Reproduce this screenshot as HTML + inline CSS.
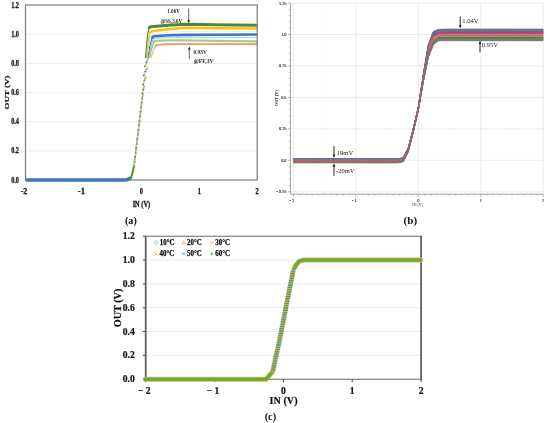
<!DOCTYPE html>
<html lang="en"><head><meta charset="utf-8"><title>Figure</title>
<style>
html,body{margin:0;padding:0;background:#fff;}
body{width:550px;height:423px;overflow:hidden;}
svg{display:block;}
text{font-family:'Liberation Serif', 'DejaVu Serif', serif;fill:#111;}
.ta{font-size:7.6px;font-weight:bold;fill:#1a1a1a;stroke:#1a1a1a;stroke-width:0.3px;}
.an{font-size:6.8px;font-weight:bold;fill:#2a2a2a;}
.tb{font-size:4.3px;fill:#222;stroke:#222;stroke-width:0.1px;}
.tb2{font-size:3.9px;fill:#222;}
.bn{font-size:6.8px;fill:#1a1a1a;}
.tc{font-size:9.6px;font-weight:bold;fill:#111;stroke:#111;stroke-width:0.2px;}
.lg{font-size:7.5px;font-weight:bold;fill:#111;stroke:#111;stroke-width:0.25px;}
.cap{font-size:10.2px;font-weight:bold;fill:#111;}
</style></head><body>
<svg width="550" height="423" viewBox="0 0 550 423">
<rect width="550" height="423" fill="#fff"/>
<g id="chartA">
<line x1="25.5" x2="257.2" y1="150.83" y2="150.83" stroke="#e9e9e9" stroke-width="0.8"/>
<line x1="25.5" x2="257.2" y1="121.67" y2="121.67" stroke="#e9e9e9" stroke-width="0.8"/>
<line x1="25.5" x2="257.2" y1="92.50" y2="92.50" stroke="#e9e9e9" stroke-width="0.8"/>
<line x1="25.5" x2="257.2" y1="63.33" y2="63.33" stroke="#e9e9e9" stroke-width="0.8"/>
<line x1="25.5" x2="257.2" y1="34.17" y2="34.17" stroke="#e9e9e9" stroke-width="0.8"/>
<polyline points="150.87,58.00 152.77,52.11 155.40,46.10 156.90,44.70" fill="none" stroke="#f0a47e" stroke-width="1.1" stroke-linejoin="round"/>
<polyline points="155.10,46.80 155.80,45.40 157.10,44.70 168.00,44.10 185.00,44.00 215.00,44.05 257.20,44.10" fill="none" stroke="#f0a47e" stroke-width="2.1" stroke-linejoin="round"/>
<polyline points="149.31,58.00 151.63,48.76 154.00,42.30 155.50,40.90" fill="none" stroke="#8cc06a" stroke-width="1.1" stroke-linejoin="round"/>
<polyline points="153.70,43.00 154.40,41.60 155.70,40.90 168.00,40.40 185.00,40.40 215.00,40.90 257.20,41.40" fill="none" stroke="#a4cf86" stroke-width="2.3" stroke-linejoin="round"/>
<polyline points="148.43,58.00 150.92,46.14 153.10,39.70 154.60,38.30" fill="none" stroke="#9db8dc" stroke-width="1.1" stroke-linejoin="round"/>
<polyline points="152.80,40.40 153.50,39.00 154.80,38.30 168.00,37.60 185.00,37.40 215.00,37.50 257.20,37.60" fill="none" stroke="#c3d3e8" stroke-width="1.5" stroke-linejoin="round"/>
<polyline points="147.69,58.00 150.27,43.80 152.30,37.60 153.80,36.20" fill="none" stroke="#3a78c3" stroke-width="1.1" stroke-linejoin="round"/>
<polyline points="152.00,38.30 152.70,36.90 154.00,36.20 168.00,35.30 185.00,34.90 215.00,34.70 257.20,34.50" fill="none" stroke="#3a78c3" stroke-width="2.6" stroke-linejoin="round"/>
<polyline points="146.87,58.00 149.38,41.04 151.10,35.10 152.60,33.70" fill="none" stroke="#d9d2a8" stroke-width="1.1" stroke-linejoin="round"/>
<polyline points="150.80,35.80 151.50,34.40 152.80,33.70 168.00,32.30 185.00,31.40 215.00,31.35 257.20,31.30" fill="none" stroke="#f1eedd" stroke-width="1.3" stroke-linejoin="round"/>
<polyline points="146.23,58.00 148.58,38.17 150.00,32.60 151.50,31.20" fill="none" stroke="#f6c315" stroke-width="1.1" stroke-linejoin="round"/>
<polyline points="149.70,33.30 150.40,31.90 151.70,31.20 168.00,29.25 185.00,27.80 215.00,28.20 257.20,28.60" fill="none" stroke="#f6c315" stroke-width="2.5" stroke-linejoin="round"/>
<polyline points="145.36,58.00 147.73,33.50 149.00,28.10 150.50,26.70" fill="none" stroke="#4b8a35" stroke-width="1.1" stroke-linejoin="round"/>
<polyline points="148.70,28.80 149.40,27.40 150.70,26.70 168.00,25.20 185.00,24.20 215.00,24.70 257.20,25.20" fill="none" stroke="#4b8a35" stroke-width="2.9" stroke-linejoin="round"/>
<polyline points="133.80,168.00 142.00,100.00 147.00,70.00 148.02,58.00" fill="none" stroke="#f0a47e" stroke-width="1.8" stroke-dasharray="1.5 7.6" stroke-dashoffset="0.0"/>
<polyline points="133.80,168.00 142.00,100.00 146.30,70.00 147.56,58.00" fill="none" stroke="#8cc06a" stroke-width="1.8" stroke-dasharray="1.5 7.6" stroke-dashoffset="1.3"/>
<polyline points="133.80,168.00 142.00,100.00 145.90,70.00 147.30,58.00" fill="none" stroke="#9db8dc" stroke-width="1.8" stroke-dasharray="1.5 7.6" stroke-dashoffset="2.6"/>
<polyline points="133.80,168.00 142.00,100.00 145.50,70.00 147.04,58.00" fill="none" stroke="#3a78c3" stroke-width="1.8" stroke-dasharray="1.5 7.6" stroke-dashoffset="3.9"/>
<polyline points="133.80,168.00 142.00,100.00 145.10,70.00 146.78,58.00" fill="none" stroke="#d9d2a8" stroke-width="1.8" stroke-dasharray="1.5 7.6" stroke-dashoffset="5.2"/>
<polyline points="133.80,168.00 142.00,100.00 144.80,70.00 146.59,58.00" fill="none" stroke="#f6c315" stroke-width="1.8" stroke-dasharray="1.5 7.6" stroke-dashoffset="6.5"/>
<polyline points="133.80,168.00 142.00,100.00 144.20,70.00 146.19,58.00" fill="none" stroke="#4b8a35" stroke-width="1.8" stroke-dasharray="1.5 7.6" stroke-dashoffset="7.8"/>
<polyline points="25.50,180.00 123.00,180.00 126.50,179.70 129.20,178.90 130.80,177.60" fill="none" stroke="#2a72ba" stroke-width="3.6" stroke-linejoin="round"/>
<polyline points="129.20,179.30 131.20,177.60 132.60,172.50 133.60,167.50" fill="none" stroke="#4b8a35" stroke-width="1.9" stroke-linejoin="round" stroke-linecap="round"/>
<rect x="25.5" y="5.0" width="231.7" height="175.0" fill="none" stroke="#7a7a7a" stroke-width="1.2"/>
<text x="19" y="182.60" class="ta" text-anchor="end" textLength="7.8" lengthAdjust="spacingAndGlyphs">0.0</text>
<text x="19" y="153.43" class="ta" text-anchor="end" textLength="7.8" lengthAdjust="spacingAndGlyphs">0.2</text>
<text x="19" y="124.27" class="ta" text-anchor="end" textLength="7.8" lengthAdjust="spacingAndGlyphs">0.4</text>
<text x="19" y="95.10" class="ta" text-anchor="end" textLength="7.8" lengthAdjust="spacingAndGlyphs">0.6</text>
<text x="19" y="65.93" class="ta" text-anchor="end" textLength="7.8" lengthAdjust="spacingAndGlyphs">0.8</text>
<text x="19" y="36.77" class="ta" text-anchor="end" textLength="7.8" lengthAdjust="spacingAndGlyphs">1.0</text>
<text x="19" y="7.60" class="ta" text-anchor="end" textLength="7.8" lengthAdjust="spacingAndGlyphs">1.2</text>
<text x="24.00" y="193.5" class="ta" text-anchor="middle" textLength="6.6" lengthAdjust="spacingAndGlyphs">-2</text>
<text x="81.42" y="193.5" class="ta" text-anchor="middle" textLength="7.2" lengthAdjust="spacingAndGlyphs">-1</text>
<text x="141.35" y="193.5" class="ta" text-anchor="middle" textLength="3.2" lengthAdjust="spacingAndGlyphs">0</text>
<text x="199.27" y="193.5" class="ta" text-anchor="middle" textLength="3.2" lengthAdjust="spacingAndGlyphs">1</text>
<text x="257.20" y="193.5" class="ta" text-anchor="middle" textLength="3.2" lengthAdjust="spacingAndGlyphs">2</text>
<text x="141.4" y="207" class="ta" text-anchor="middle" textLength="17.5" lengthAdjust="spacingAndGlyphs">IN (V)</text>
<text transform="translate(8.7,92.6) scale(0.76,1) rotate(-90)" class="ta" style="font-size:8.8px" text-anchor="middle" textLength="34" lengthAdjust="spacingAndGlyphs">OUT (V)</text>
<text x="167.3" y="13.3" class="an" textLength="12.6" lengthAdjust="spacingAndGlyphs">1.06V</text>
<text x="160.6" y="22.5" class="an" textLength="21.6" lengthAdjust="spacingAndGlyphs">@SS,3.6V</text>
<text x="193.5" y="54.2" class="an" textLength="13.4" lengthAdjust="spacingAndGlyphs">0.93V</text>
<text x="193.5" y="63.4" class="an" textLength="20.2" lengthAdjust="spacingAndGlyphs">@FF,3V</text>
<path d="M188.7 8.5V22" stroke="#222" stroke-width="0.7" fill="none"/><path d="M187.3 20.3h2.8l-1.4 3z" fill="#222"/>
<path d="M189.3 59V48.5" stroke="#222" stroke-width="0.7" fill="none"/><path d="M187.9 49.6h2.8l-1.4-3z" fill="#222"/>
</g>
<g id="chartB">
<line x1="324.62" x2="324.62" y1="3.05" y2="194.2" stroke="#fbfbfb" stroke-width="0.7"/>
<line x1="387.07" x2="387.07" y1="3.05" y2="194.2" stroke="#fbfbfb" stroke-width="0.7"/>
<line x1="449.52" x2="449.52" y1="3.05" y2="194.2" stroke="#fbfbfb" stroke-width="0.7"/>
<line x1="511.98" x2="511.98" y1="3.05" y2="194.2" stroke="#fbfbfb" stroke-width="0.7"/>
<line x1="293.40" x2="293.40" y1="3.05" y2="194.2" stroke="#e4e4e4" stroke-width="0.7"/>
<line x1="355.85" x2="355.85" y1="3.05" y2="194.2" stroke="#e4e4e4" stroke-width="0.7"/>
<line x1="418.30" x2="418.30" y1="3.05" y2="194.2" stroke="#e4e4e4" stroke-width="0.7"/>
<line x1="480.75" x2="480.75" y1="3.05" y2="194.2" stroke="#e4e4e4" stroke-width="0.7"/>
<line x1="543.20" x2="543.20" y1="3.05" y2="194.2" stroke="#e4e4e4" stroke-width="0.7"/>
<line x1="290.4" x2="543.20" y1="191.75" y2="191.75" stroke="#e4e4e4" stroke-width="0.7"/>
<line x1="290.4" x2="543.20" y1="160.30" y2="160.30" stroke="#e4e4e4" stroke-width="0.7"/>
<line x1="290.4" x2="543.20" y1="128.85" y2="128.85" stroke="#e4e4e4" stroke-width="0.7"/>
<line x1="290.4" x2="543.20" y1="97.40" y2="97.40" stroke="#e4e4e4" stroke-width="0.7"/>
<line x1="290.4" x2="543.20" y1="65.95" y2="65.95" stroke="#e4e4e4" stroke-width="0.7"/>
<line x1="290.4" x2="543.20" y1="34.50" y2="34.50" stroke="#e4e4e4" stroke-width="0.7"/>
<line x1="290.4" x2="543.20" y1="3.05" y2="3.05" stroke="#e4e4e4" stroke-width="0.7"/>
<polyline points="293.40,162.77 398.32,162.78 403.31,161.58 408.31,151.64 413.30,131.89 418.30,110.26 423.30,81.82 428.29,57.42 433.29,45.09 438.28,40.81 443.28,40.69 543.20,40.68" fill="none" stroke="#4a8a6a" stroke-width="0.9" stroke-linejoin="round"/>
<polyline points="293.40,158.71 398.32,158.70 403.31,157.50 408.31,147.56 413.30,128.32 418.30,107.18 423.30,74.73 428.29,44.53 433.29,31.32 438.28,29.31 443.28,29.06 543.20,29.08" fill="none" stroke="#b0a84a" stroke-width="0.9" stroke-linejoin="round"/>
<polyline points="293.40,162.54 398.32,162.44 403.31,161.24 408.31,151.30 413.30,131.57 418.30,109.94 423.30,81.41 428.29,56.85 433.29,44.50 438.28,40.28 443.28,40.15 543.20,40.26" fill="none" stroke="#438c78" stroke-width="0.9" stroke-linejoin="round"/>
<polyline points="293.40,158.84 398.32,158.85 403.31,157.65 408.31,147.71 413.30,128.45 418.30,107.31 423.30,74.95 428.29,44.91 433.29,31.72 438.28,29.65 443.28,29.40 543.20,29.40" fill="none" stroke="#6ea16b" stroke-width="0.9" stroke-linejoin="round"/>
<polyline points="293.40,162.54 398.32,162.54 403.31,161.35 408.31,151.41 413.30,131.68 418.30,110.07 423.30,81.44 428.29,56.73 433.29,44.36 438.28,40.20 443.28,40.07 543.20,40.07" fill="none" stroke="#3c8e85" stroke-width="0.9" stroke-linejoin="round"/>
<polyline points="293.40,158.91 398.32,158.89 403.31,157.69 408.31,147.76 413.30,128.48 418.30,107.32 423.30,75.07 428.29,45.18 433.29,32.01 438.28,29.89 443.28,29.64 543.20,29.66" fill="none" stroke="#2f9a8b" stroke-width="0.9" stroke-linejoin="round"/>
<polyline points="293.40,162.52 398.32,162.60 403.31,161.41 408.31,151.47 413.30,131.76 418.30,110.16 423.30,81.42 428.29,56.57 433.29,44.17 438.28,40.07 443.28,39.93 543.20,39.85" fill="none" stroke="#419180" stroke-width="0.9" stroke-linejoin="round"/>
<polyline points="293.40,159.03 398.32,159.03 403.31,157.84 408.31,147.90 413.30,128.61 418.30,107.44 423.30,75.29 428.29,45.55 433.29,32.40 438.28,30.22 443.28,29.97 543.20,29.98" fill="none" stroke="#33909c" stroke-width="0.9" stroke-linejoin="round"/>
<polyline points="293.40,162.31 398.32,162.27 403.31,161.08 408.31,151.14 413.30,131.44 418.30,109.86 423.30,81.01 428.29,56.01 433.29,43.60 438.28,39.55 443.28,39.41 543.20,39.44" fill="none" stroke="#4b9570" stroke-width="0.9" stroke-linejoin="round"/>
<polyline points="293.40,159.07 398.32,158.99 403.31,157.80 408.31,147.86 413.30,128.56 418.30,107.37 423.30,75.33 428.29,45.73 433.29,32.61 438.28,30.37 443.28,30.13 543.20,30.20" fill="none" stroke="#3786ad" stroke-width="0.9" stroke-linejoin="round"/>
<polyline points="293.40,162.34 398.32,162.44 403.31,161.25 408.31,151.31 413.30,131.62 418.30,110.05 423.30,81.10 428.29,55.95 433.29,43.51 438.28,39.53 443.28,39.38 543.20,39.28" fill="none" stroke="#559861" stroke-width="0.9" stroke-linejoin="round"/>
<polyline points="293.40,159.29 398.32,159.34 403.31,158.15 408.31,148.21 413.30,128.90 418.30,107.70 423.30,75.76 428.29,46.31 433.29,33.21 438.28,30.91 443.28,30.67 543.20,30.62" fill="none" stroke="#3e7cb7" stroke-width="0.9" stroke-linejoin="round"/>
<polyline points="293.40,162.24 398.32,162.34 403.31,161.14 408.31,151.21 413.30,131.53 418.30,109.97 423.30,80.92 428.29,55.63 433.29,43.16 438.28,39.23 443.28,39.09 543.20,38.99" fill="none" stroke="#629756" stroke-width="0.9" stroke-linejoin="round"/>
<polyline points="293.40,159.27 398.32,159.19 403.31,158.00 408.31,148.06 413.30,128.73 418.30,107.52 423.30,75.68 428.29,46.38 433.29,33.31 438.28,30.95 443.28,30.72 543.20,30.79" fill="none" stroke="#4a71b5" stroke-width="0.9" stroke-linejoin="round"/>
<polyline points="293.40,161.98 398.32,161.93 403.31,160.74 408.31,150.80 413.30,131.14 418.30,109.59 423.30,80.44 428.29,55.00 433.29,42.51 438.28,38.64 443.28,38.49 543.20,38.54" fill="none" stroke="#729250" stroke-width="0.9" stroke-linejoin="round"/>
<polyline points="293.40,159.57 398.32,159.68 403.31,158.49 408.31,148.55 413.30,129.21 418.30,107.98 423.30,76.25 428.29,47.10 433.29,34.05 438.28,31.63 443.28,31.40 543.20,31.28" fill="none" stroke="#5766b3" stroke-width="0.9" stroke-linejoin="round"/>
<polyline points="293.40,161.81 398.32,161.68 403.31,160.49 408.31,150.55 413.30,130.90 418.30,109.37 423.30,80.11 428.29,54.52 433.29,42.01 438.28,38.20 443.28,38.05 543.20,38.17" fill="none" stroke="#818d49" stroke-width="0.9" stroke-linejoin="round"/>
<polyline points="293.40,159.44 398.32,159.32 403.31,158.12 408.31,148.19 413.30,128.84 418.30,107.60 423.30,75.97 428.29,46.96 433.29,33.93 438.28,31.46 443.28,31.23 543.20,31.35" fill="none" stroke="#635bb1" stroke-width="0.9" stroke-linejoin="round"/>
<polyline points="293.40,161.79 398.32,161.75 403.31,160.55 408.31,150.61 413.30,130.98 418.30,109.46 423.30,80.10 428.29,54.36 433.29,41.83 438.28,38.07 443.28,37.92 543.20,37.95" fill="none" stroke="#868453" stroke-width="0.9" stroke-linejoin="round"/>
<polyline points="293.40,159.63 398.32,159.60 403.31,158.40 408.31,148.47 413.30,129.10 418.30,107.85 423.30,76.32 428.29,47.47 433.29,34.46 438.28,31.93 443.28,31.70 543.20,31.73" fill="none" stroke="#6d54af" stroke-width="0.9" stroke-linejoin="round"/>
<polyline points="293.40,161.81 398.32,161.89 403.31,160.70 408.31,150.76 413.30,131.14 418.30,109.63 423.30,80.17 428.29,54.28 433.29,41.72 438.28,38.03 443.28,37.87 543.20,37.78" fill="none" stroke="#7b7476" stroke-width="0.9" stroke-linejoin="round"/>
<polyline points="293.40,159.88 398.32,160.00 403.31,158.81 408.31,148.87 413.30,129.49 418.30,108.23 423.30,76.81 428.29,48.10 433.29,35.12 438.28,32.52 443.28,32.30 543.20,32.18" fill="none" stroke="#7651ad" stroke-width="0.9" stroke-linejoin="round"/>
<polyline points="293.40,161.61 398.32,161.60 403.31,160.41 408.31,150.47 413.30,130.86 418.30,109.37 423.30,79.80 428.29,53.76 433.29,41.19 438.28,37.55 443.28,37.39 543.20,37.39" fill="none" stroke="#716598" stroke-width="0.9" stroke-linejoin="round"/>
<polyline points="293.40,159.97 398.32,160.08 403.31,158.89 408.31,148.95 413.30,129.56 418.30,108.29 423.30,76.96 428.29,48.40 433.29,35.44 438.28,32.79 443.28,32.58 543.20,32.47" fill="none" stroke="#7e4eab" stroke-width="0.9" stroke-linejoin="round"/>
<polyline points="293.40,161.59 398.32,161.67 403.31,160.48 408.31,150.54 413.30,130.94 418.30,109.46 423.30,79.79 428.29,53.60 433.29,41.00 438.28,37.42 443.28,37.26 543.20,37.18" fill="none" stroke="#6c61a7" stroke-width="0.9" stroke-linejoin="round"/>
<polyline points="293.40,160.03 398.32,160.10 403.31,158.90 408.31,148.96 413.30,129.56 418.30,108.27 423.30,77.05 428.29,48.64 433.29,35.70 438.28,32.99 443.28,32.78 543.20,32.72" fill="none" stroke="#864ba9" stroke-width="0.9" stroke-linejoin="round"/>
<polyline points="293.40,161.53 398.32,161.65 403.31,160.45 408.31,150.51 413.30,130.93 418.30,109.46 423.30,79.69 428.29,53.35 433.29,40.73 438.28,37.21 443.28,37.04 543.20,36.92" fill="none" stroke="#737788" stroke-width="0.9" stroke-linejoin="round"/>
<polyline points="293.40,160.08 398.32,160.09 403.31,158.89 408.31,148.95 413.30,129.54 418.30,108.24 423.30,77.12 428.29,48.86 433.29,35.94 438.28,33.18 443.28,32.97 543.20,32.96" fill="none" stroke="#934ba3" stroke-width="0.9" stroke-linejoin="round"/>
<polyline points="293.40,161.32 398.32,161.34 403.31,160.14 408.31,150.20 413.30,130.63 418.30,109.18 423.30,79.30 428.29,52.82 433.29,40.17 438.28,36.71 443.28,36.54 543.20,36.52" fill="none" stroke="#798e69" stroke-width="0.9" stroke-linejoin="round"/>
<polyline points="293.40,160.09 398.32,160.00 403.31,158.81 408.31,148.87 413.30,129.44 418.30,108.12 423.30,77.11 428.29,49.00 433.29,36.11 438.28,33.28 443.28,33.07 543.20,33.16" fill="none" stroke="#a44d99" stroke-width="0.9" stroke-linejoin="round"/>
<polyline points="293.40,161.20 398.32,161.20 403.31,160.00 408.31,150.06 413.30,130.50 418.30,109.06 423.30,79.08 428.29,52.45 433.29,39.78 438.28,36.38 443.28,36.20 543.20,36.21" fill="none" stroke="#869f50" stroke-width="0.9" stroke-linejoin="round"/>
<polyline points="293.40,160.24 398.32,160.21 403.31,159.01 408.31,149.07 413.30,129.63 418.30,108.30 423.30,77.39 428.29,49.43 433.29,36.56 438.28,33.67 443.28,33.47 543.20,33.51" fill="none" stroke="#b64f90" stroke-width="0.9" stroke-linejoin="round"/>
<polyline points="293.40,161.10 398.32,161.10 403.31,159.91 408.31,149.97 413.30,130.42 418.30,108.99 423.30,78.91 428.29,52.13 433.29,39.44 438.28,36.09 443.28,35.92 543.20,35.92" fill="none" stroke="#ab9652" stroke-width="0.9" stroke-linejoin="round"/>
<polyline points="293.40,160.34 398.32,160.30 403.31,159.10 408.31,149.16 413.30,129.71 418.30,108.37 423.30,77.56 428.29,49.75 433.29,36.90 438.28,33.96 443.28,33.76 543.20,33.80" fill="none" stroke="#c45384" stroke-width="0.9" stroke-linejoin="round"/>
<polyline points="293.40,161.01 398.32,161.02 403.31,159.82 408.31,149.89 413.30,130.36 418.30,108.94 423.30,78.75 428.29,51.82 433.29,39.11 438.28,35.82 443.28,35.64 543.20,35.63" fill="none" stroke="#d08e54" stroke-width="0.9" stroke-linejoin="round"/>
<polyline points="293.40,160.54 398.32,160.59 403.31,159.40 408.31,149.46 413.30,129.99 418.30,108.64 423.30,77.94 428.29,50.27 433.29,37.44 438.28,34.44 443.28,34.25 543.20,34.19" fill="none" stroke="#ce5b74" stroke-width="0.9" stroke-linejoin="round"/>
<polyline points="293.40,160.77 398.32,160.64 403.31,159.45 408.31,149.51 413.30,129.99 418.30,108.59 423.30,78.30 428.29,51.22 433.29,38.49 438.28,35.26 443.28,35.07 543.20,35.20" fill="none" stroke="#e48456" stroke-width="0.9" stroke-linejoin="round"/>
<polyline points="293.40,160.46 398.32,160.34 403.31,159.14 408.31,149.20 413.30,129.72 418.30,108.36 423.30,77.76 428.29,50.24 433.29,37.43 438.28,34.38 443.28,34.18 543.20,34.31" fill="none" stroke="#d96265" stroke-width="0.9" stroke-linejoin="round"/>
<polyline points="293.40,160.71 398.32,160.62 403.31,159.43 408.31,149.49 413.30,129.98 418.30,108.59 423.30,78.20 428.29,50.97 433.29,38.22 438.28,35.04 443.28,34.85 543.20,34.94" fill="none" stroke="#e27858" stroke-width="0.9" stroke-linejoin="round"/>
<polyline points="293.40,160.64 398.32,160.58 403.31,159.39 408.31,149.45 413.30,129.96 418.30,108.58 423.30,78.08 428.29,50.71 433.29,37.93 438.28,34.81 443.28,34.62 543.20,34.68" fill="none" stroke="#e16b59" stroke-width="0.9" stroke-linejoin="round"/>
<polyline points="293.40,160.18 398.32,160.31 403.31,159.12 408.31,149.18 413.30,129.77 418.30,108.47 423.30,77.33 428.29,49.02 433.29,36.10 438.28,33.35 443.28,33.14 543.20,33.00" fill="none" stroke="#7a4db0" stroke-width="0.45" stroke-linejoin="round" opacity="0.85"/>
<polyline points="293.40,160.16 398.32,160.37 403.31,159.18 408.31,149.24 413.30,129.84 418.30,108.56 423.30,77.31 428.29,48.87 433.29,35.92 438.28,33.23 443.28,33.01 543.20,32.80" fill="none" stroke="#cf4f4f" stroke-width="0.45" stroke-linejoin="round" opacity="0.85"/>
<polyline points="293.40,161.80 398.32,161.85 403.31,160.65 408.31,150.71 413.30,131.09 418.30,109.58 423.30,80.14 428.29,54.29 433.29,41.74 438.28,38.03 443.28,37.87 543.20,37.82" fill="none" stroke="#3d8f8f" stroke-width="0.45" stroke-linejoin="round" opacity="0.85"/>
<polyline points="293.40,162.11 398.32,162.17 403.31,160.97 408.31,151.03 413.30,131.37 418.30,109.82 423.30,80.69 428.29,55.27 433.29,42.79 438.28,38.91 443.28,38.76 543.20,38.71" fill="none" stroke="#b99a2c" stroke-width="0.45" stroke-linejoin="round" opacity="0.85"/>
<polyline points="293.40,162.30 398.32,162.12 403.31,160.93 408.31,150.99 413.30,131.28 418.30,109.67 423.30,80.96 428.29,56.16 433.29,43.77 438.28,39.65 443.28,39.51 543.20,39.69" fill="none" stroke="#4a6fb5" stroke-width="0.45" stroke-linejoin="round" opacity="0.85"/>
<polyline points="293.40,159.00 398.32,159.14 403.31,157.95 408.31,148.01 413.30,128.75 418.30,107.60 423.30,75.26 428.29,45.25 433.29,32.07 438.28,29.98 443.28,29.74 543.20,29.59" fill="none" stroke="#b54a8a" stroke-width="0.45" stroke-linejoin="round" opacity="0.85"/>
<polyline points="293.40,162.31 398.32,162.32 403.31,161.13 408.31,151.19 413.30,131.50 418.30,109.92 423.30,81.03 428.29,55.96 433.29,43.53 438.28,39.51 443.28,39.37 543.20,39.36" fill="none" stroke="#6aa04a" stroke-width="0.45" stroke-linejoin="round" opacity="0.85"/>
<polyline points="293.40,162.61 398.32,162.66 403.31,161.47 408.31,151.53 413.30,131.80 418.30,110.19 423.30,81.56 428.29,56.88 433.29,44.51 438.28,40.34 443.28,40.21 543.20,40.15" fill="none" stroke="#d9793a" stroke-width="0.45" stroke-linejoin="round" opacity="0.85"/>
<polyline points="293.40,159.06 398.32,158.99 403.31,157.80 408.31,147.86 413.30,128.56 418.30,107.38 423.30,75.32 428.29,45.70 433.29,32.58 438.28,30.34 443.28,30.10 543.20,30.17" fill="none" stroke="#5a5fb8" stroke-width="0.45" stroke-linejoin="round" opacity="0.85"/>
<polyline points="293.40,161.91 398.32,162.03 403.31,160.83 408.31,150.89 413.30,131.26 418.30,109.74 423.30,80.35 428.29,54.57 433.29,42.03 438.28,38.29 443.28,38.14 543.20,38.02" fill="none" stroke="#9a3a5a" stroke-width="0.45" stroke-linejoin="round" opacity="0.85"/>
<polyline points="293.40,159.26 398.32,159.35 403.31,158.15 408.31,148.21 413.30,128.91 418.30,107.72 423.30,75.71 428.29,46.17 433.29,33.06 438.28,30.79 443.28,30.55 543.20,30.47" fill="none" stroke="#7a4db0" stroke-width="0.45" stroke-linejoin="round" opacity="0.85"/>
<polyline points="293.40,162.37 398.32,162.24 403.31,161.04 408.31,151.10 413.30,131.38 418.30,109.78 423.30,81.09 428.29,56.32 433.29,43.93 438.28,39.80 443.28,39.67 543.20,39.80" fill="none" stroke="#cf4f4f" stroke-width="0.45" stroke-linejoin="round" opacity="0.85"/>
<polyline points="293.40,159.42 398.32,159.55 403.31,158.35 408.31,148.42 413.30,129.10 418.30,107.89 423.30,76.00 428.29,46.63 433.29,33.54 438.28,31.21 443.28,30.98 543.20,30.85" fill="none" stroke="#3d8f8f" stroke-width="0.45" stroke-linejoin="round" opacity="0.85"/>
<polyline points="293.40,159.45 398.32,159.67 403.31,158.48 408.31,148.54 413.30,129.23 418.30,108.03 423.30,76.08 428.29,46.61 433.29,33.51 438.28,31.22 443.28,30.98 543.20,30.76" fill="none" stroke="#b99a2c" stroke-width="0.45" stroke-linejoin="round" opacity="0.85"/>
<polyline points="293.40,162.03 398.32,162.19 403.31,160.99 408.31,151.06 413.30,131.42 418.30,109.89 423.30,80.57 428.29,54.89 433.29,42.36 438.28,38.59 443.28,38.43 543.20,38.27" fill="none" stroke="#4a6fb5" stroke-width="0.45" stroke-linejoin="round" opacity="0.85"/>
<polyline points="293.40,160.99 398.32,161.02 403.31,159.82 408.31,149.88 413.30,130.36 418.30,108.94 423.30,78.72 428.29,51.75 433.29,39.03 438.28,35.76 443.28,35.58 543.20,35.55" fill="none" stroke="#b54a8a" stroke-width="0.45" stroke-linejoin="round" opacity="0.85"/>
<line x1="290.4" x2="290.4" y1="3.05" y2="194.2" stroke="#6a6a6a" stroke-width="0.6"/>
<line x1="290.4" x2="543.20" y1="194.2" y2="194.2" stroke="#6a6a6a" stroke-width="0.6"/>
<line x1="287.80" x2="290.4" y1="191.75" y2="191.75" stroke="#666" stroke-width="0.45"/>
<line x1="289.10" x2="290.4" y1="185.46" y2="185.46" stroke="#666" stroke-width="0.45"/>
<line x1="289.10" x2="290.4" y1="179.17" y2="179.17" stroke="#666" stroke-width="0.45"/>
<line x1="289.10" x2="290.4" y1="172.88" y2="172.88" stroke="#666" stroke-width="0.45"/>
<line x1="289.10" x2="290.4" y1="166.59" y2="166.59" stroke="#666" stroke-width="0.45"/>
<line x1="287.80" x2="290.4" y1="160.30" y2="160.30" stroke="#666" stroke-width="0.45"/>
<line x1="289.10" x2="290.4" y1="154.01" y2="154.01" stroke="#666" stroke-width="0.45"/>
<line x1="289.10" x2="290.4" y1="147.72" y2="147.72" stroke="#666" stroke-width="0.45"/>
<line x1="289.10" x2="290.4" y1="141.43" y2="141.43" stroke="#666" stroke-width="0.45"/>
<line x1="289.10" x2="290.4" y1="135.14" y2="135.14" stroke="#666" stroke-width="0.45"/>
<line x1="287.80" x2="290.4" y1="128.85" y2="128.85" stroke="#666" stroke-width="0.45"/>
<line x1="289.10" x2="290.4" y1="122.56" y2="122.56" stroke="#666" stroke-width="0.45"/>
<line x1="289.10" x2="290.4" y1="116.27" y2="116.27" stroke="#666" stroke-width="0.45"/>
<line x1="289.10" x2="290.4" y1="109.98" y2="109.98" stroke="#666" stroke-width="0.45"/>
<line x1="289.10" x2="290.4" y1="103.69" y2="103.69" stroke="#666" stroke-width="0.45"/>
<line x1="287.80" x2="290.4" y1="97.40" y2="97.40" stroke="#666" stroke-width="0.45"/>
<line x1="289.10" x2="290.4" y1="91.11" y2="91.11" stroke="#666" stroke-width="0.45"/>
<line x1="289.10" x2="290.4" y1="84.82" y2="84.82" stroke="#666" stroke-width="0.45"/>
<line x1="289.10" x2="290.4" y1="78.53" y2="78.53" stroke="#666" stroke-width="0.45"/>
<line x1="289.10" x2="290.4" y1="72.24" y2="72.24" stroke="#666" stroke-width="0.45"/>
<line x1="287.80" x2="290.4" y1="65.95" y2="65.95" stroke="#666" stroke-width="0.45"/>
<line x1="289.10" x2="290.4" y1="59.66" y2="59.66" stroke="#666" stroke-width="0.45"/>
<line x1="289.10" x2="290.4" y1="53.37" y2="53.37" stroke="#666" stroke-width="0.45"/>
<line x1="289.10" x2="290.4" y1="47.08" y2="47.08" stroke="#666" stroke-width="0.45"/>
<line x1="289.10" x2="290.4" y1="40.79" y2="40.79" stroke="#666" stroke-width="0.45"/>
<line x1="287.80" x2="290.4" y1="34.50" y2="34.50" stroke="#666" stroke-width="0.45"/>
<line x1="289.10" x2="290.4" y1="28.21" y2="28.21" stroke="#666" stroke-width="0.45"/>
<line x1="289.10" x2="290.4" y1="21.92" y2="21.92" stroke="#666" stroke-width="0.45"/>
<line x1="289.10" x2="290.4" y1="15.63" y2="15.63" stroke="#666" stroke-width="0.45"/>
<line x1="289.10" x2="290.4" y1="9.34" y2="9.34" stroke="#666" stroke-width="0.45"/>
<line x1="287.80" x2="290.4" y1="3.05" y2="3.05" stroke="#666" stroke-width="0.45"/>
<line x1="293.40" x2="293.40" y1="194.2" y2="196.80" stroke="#666" stroke-width="0.45"/>
<line x1="299.64" x2="299.64" y1="194.2" y2="195.40" stroke="#666" stroke-width="0.45"/>
<line x1="305.89" x2="305.89" y1="194.2" y2="195.40" stroke="#666" stroke-width="0.45"/>
<line x1="312.13" x2="312.13" y1="194.2" y2="195.40" stroke="#666" stroke-width="0.45"/>
<line x1="318.38" x2="318.38" y1="194.2" y2="195.40" stroke="#666" stroke-width="0.45"/>
<line x1="324.62" x2="324.62" y1="194.2" y2="195.40" stroke="#666" stroke-width="0.45"/>
<line x1="330.87" x2="330.87" y1="194.2" y2="195.40" stroke="#666" stroke-width="0.45"/>
<line x1="337.11" x2="337.11" y1="194.2" y2="195.40" stroke="#666" stroke-width="0.45"/>
<line x1="343.36" x2="343.36" y1="194.2" y2="195.40" stroke="#666" stroke-width="0.45"/>
<line x1="349.60" x2="349.60" y1="194.2" y2="195.40" stroke="#666" stroke-width="0.45"/>
<line x1="355.85" x2="355.85" y1="194.2" y2="196.80" stroke="#666" stroke-width="0.45"/>
<line x1="362.09" x2="362.09" y1="194.2" y2="195.40" stroke="#666" stroke-width="0.45"/>
<line x1="368.34" x2="368.34" y1="194.2" y2="195.40" stroke="#666" stroke-width="0.45"/>
<line x1="374.58" x2="374.58" y1="194.2" y2="195.40" stroke="#666" stroke-width="0.45"/>
<line x1="380.83" x2="380.83" y1="194.2" y2="195.40" stroke="#666" stroke-width="0.45"/>
<line x1="387.07" x2="387.07" y1="194.2" y2="195.40" stroke="#666" stroke-width="0.45"/>
<line x1="393.32" x2="393.32" y1="194.2" y2="195.40" stroke="#666" stroke-width="0.45"/>
<line x1="399.56" x2="399.56" y1="194.2" y2="195.40" stroke="#666" stroke-width="0.45"/>
<line x1="405.81" x2="405.81" y1="194.2" y2="195.40" stroke="#666" stroke-width="0.45"/>
<line x1="412.05" x2="412.05" y1="194.2" y2="195.40" stroke="#666" stroke-width="0.45"/>
<line x1="418.30" x2="418.30" y1="194.2" y2="196.80" stroke="#666" stroke-width="0.45"/>
<line x1="424.54" x2="424.54" y1="194.2" y2="195.40" stroke="#666" stroke-width="0.45"/>
<line x1="430.79" x2="430.79" y1="194.2" y2="195.40" stroke="#666" stroke-width="0.45"/>
<line x1="437.03" x2="437.03" y1="194.2" y2="195.40" stroke="#666" stroke-width="0.45"/>
<line x1="443.28" x2="443.28" y1="194.2" y2="195.40" stroke="#666" stroke-width="0.45"/>
<line x1="449.52" x2="449.52" y1="194.2" y2="195.40" stroke="#666" stroke-width="0.45"/>
<line x1="455.77" x2="455.77" y1="194.2" y2="195.40" stroke="#666" stroke-width="0.45"/>
<line x1="462.01" x2="462.01" y1="194.2" y2="195.40" stroke="#666" stroke-width="0.45"/>
<line x1="468.26" x2="468.26" y1="194.2" y2="195.40" stroke="#666" stroke-width="0.45"/>
<line x1="474.50" x2="474.50" y1="194.2" y2="195.40" stroke="#666" stroke-width="0.45"/>
<line x1="480.75" x2="480.75" y1="194.2" y2="196.80" stroke="#666" stroke-width="0.45"/>
<line x1="487.00" x2="487.00" y1="194.2" y2="195.40" stroke="#666" stroke-width="0.45"/>
<line x1="493.24" x2="493.24" y1="194.2" y2="195.40" stroke="#666" stroke-width="0.45"/>
<line x1="499.49" x2="499.49" y1="194.2" y2="195.40" stroke="#666" stroke-width="0.45"/>
<line x1="505.73" x2="505.73" y1="194.2" y2="195.40" stroke="#666" stroke-width="0.45"/>
<line x1="511.98" x2="511.98" y1="194.2" y2="195.40" stroke="#666" stroke-width="0.45"/>
<line x1="518.22" x2="518.22" y1="194.2" y2="195.40" stroke="#666" stroke-width="0.45"/>
<line x1="524.47" x2="524.47" y1="194.2" y2="195.40" stroke="#666" stroke-width="0.45"/>
<line x1="530.71" x2="530.71" y1="194.2" y2="195.40" stroke="#666" stroke-width="0.45"/>
<line x1="536.95" x2="536.95" y1="194.2" y2="195.40" stroke="#666" stroke-width="0.45"/>
<line x1="543.20" x2="543.20" y1="194.2" y2="196.80" stroke="#666" stroke-width="0.45"/>
<text x="286.5" y="4.55" class="tb" text-anchor="end">1.25</text>
<text x="286.5" y="36.00" class="tb" text-anchor="end">1.0</text>
<text x="286.5" y="67.45" class="tb" text-anchor="end">0.75</text>
<text x="286.5" y="98.90" class="tb" text-anchor="end">0.5</text>
<text x="286.5" y="130.35" class="tb" text-anchor="end">0.25</text>
<text x="286.5" y="161.80" class="tb" text-anchor="end">0.0</text>
<text x="286.5" y="193.25" class="tb" text-anchor="end">- 0.25</text>
<text x="291.80" y="201.8" class="tb" text-anchor="middle">- 2</text>
<text x="354.25" y="201.8" class="tb" text-anchor="middle">- 1</text>
<text x="418.30" y="201.8" class="tb" text-anchor="middle">0</text>
<text x="480.75" y="201.8" class="tb" text-anchor="middle">1</text>
<text x="543.20" y="201.8" class="tb" text-anchor="middle">2</text>
<text x="417.6" y="205.8" class="tb2" text-anchor="middle">IN (V)</text>
<text transform="translate(278,98) rotate(-90)" class="tb" text-anchor="middle">OUT (V)</text>
<text x="462.2" y="22.9" class="bn" textLength="16.4" lengthAdjust="spacingAndGlyphs">1.04V</text>
<text x="481.8" y="46.7" class="bn" textLength="16.2" lengthAdjust="spacingAndGlyphs">0.95V</text>
<text x="336.6" y="155.2" class="bn" textLength="16.6" lengthAdjust="spacingAndGlyphs">19mV</text>
<text x="336.0" y="173.3" class="bn" textLength="18.6" lengthAdjust="spacingAndGlyphs">-20mV</text>
<path d="M460.2 16.5V27.5" stroke="#2a2a2a" stroke-width="1.0" fill="none"/>
<path d="M458.9 24.9h2.6l-1.3 3z" fill="#222"/>
<path d="M480.0 52.5V41.5" stroke="#2a2a2a" stroke-width="1.0" fill="none"/>
<path d="M478.7 44.1h2.6l-1.3-3z" fill="#222"/>
<path d="M334.0 146.0V157.2" stroke="#2a2a2a" stroke-width="1.0" fill="none"/>
<path d="M332.7 154.6h2.6l-1.3 3z" fill="#222"/>
<path d="M334.0 175.8V164.2" stroke="#2a2a2a" stroke-width="1.0" fill="none"/>
<path d="M332.7 166.79999999999998h2.6l-1.3-3z" fill="#222"/>
</g>
<g id="chartC">
<line x1="145.7" x2="421.1" y1="355.37" y2="355.37" stroke="#e6e6e6" stroke-width="0.8"/>
<line x1="145.7" x2="421.1" y1="331.53" y2="331.53" stroke="#e6e6e6" stroke-width="0.8"/>
<line x1="145.7" x2="421.1" y1="307.70" y2="307.70" stroke="#e6e6e6" stroke-width="0.8"/>
<line x1="145.7" x2="421.1" y1="283.87" y2="283.87" stroke="#e6e6e6" stroke-width="0.8"/>
<line x1="145.7" x2="421.1" y1="260.03" y2="260.03" stroke="#e6e6e6" stroke-width="0.8"/>
<path d="M145.7 236.2H421.1M145.7 379.2H421.1" fill="none" stroke="#6a6a6a" stroke-width="1.1"/>
<path d="M145.7 235.7V379.7M421.1 235.7V379.7" fill="none" stroke="#585858" stroke-width="1.7"/>
<line x1="142.7" x2="145.7" y1="379.20" y2="379.20" stroke="#555" stroke-width="1.1"/>
<line x1="142.7" x2="145.7" y1="355.37" y2="355.37" stroke="#555" stroke-width="1.1"/>
<line x1="142.7" x2="145.7" y1="331.53" y2="331.53" stroke="#555" stroke-width="1.1"/>
<line x1="142.7" x2="145.7" y1="307.70" y2="307.70" stroke="#555" stroke-width="1.1"/>
<line x1="142.7" x2="145.7" y1="283.87" y2="283.87" stroke="#555" stroke-width="1.1"/>
<line x1="142.7" x2="145.7" y1="260.03" y2="260.03" stroke="#555" stroke-width="1.1"/>
<line x1="142.7" x2="145.7" y1="236.20" y2="236.20" stroke="#555" stroke-width="1.1"/>
<line x1="145.70" x2="145.70" y1="379.2" y2="382.2" stroke="#555" stroke-width="1.1"/>
<line x1="214.55" x2="214.55" y1="379.2" y2="382.2" stroke="#555" stroke-width="1.1"/>
<line x1="283.40" x2="283.40" y1="379.2" y2="382.2" stroke="#555" stroke-width="1.1"/>
<line x1="352.25" x2="352.25" y1="379.2" y2="382.2" stroke="#555" stroke-width="1.1"/>
<line x1="421.10" x2="421.10" y1="379.2" y2="382.2" stroke="#555" stroke-width="1.1"/>
<polyline points="143.70,379.20 266.20,379.20 272.75,371.40 279.90,338.50 287.40,300.00 293.30,270.10 296.30,264.60 299.30,261.30 303.40,260.03 422.40,260.03" fill="none" stroke="#f5b342" stroke-width="5.0" stroke-linejoin="round"/>
<polyline points="143.70,379.20 266.20,379.20 272.75,371.40 279.90,338.50 287.40,300.00 293.30,270.10 296.30,264.60 299.30,261.30 303.40,260.03 422.40,260.03" fill="none" stroke="#6aab3e" stroke-width="3.6" stroke-linejoin="round"/>
<polyline points="272.75,371.40 279.90,338.50 287.40,300.00 293.30,270.10" fill="none" stroke="#fff" stroke-width="5.4"/>
<polyline points="272.75,371.40 279.90,338.50 287.40,300.00 293.30,270.10" fill="none" stroke="#f7c56a" stroke-width="3.4"/>
<polyline points="272.75,371.40 279.90,338.50 287.40,300.00 293.30,270.10" fill="none" stroke="#86b94e" stroke-width="1.5"/>
<path d="M270.36 371.35h1.7M273.46 371.35h1.7M270.86 369.05h1.7M273.96 369.05h1.7M271.36 366.75h1.7M274.46 366.75h1.7M271.86 364.45h1.7M274.96 364.45h1.7M272.36 362.15h1.7M275.46 362.15h1.7M272.86 359.85h1.7M275.96 359.85h1.7M273.36 357.55h1.7M276.46 357.55h1.7M273.86 355.25h1.7M276.96 355.25h1.7M274.36 352.95h1.7M277.46 352.95h1.7M274.86 350.65h1.7M277.96 350.65h1.7M275.36 348.35h1.7M278.46 348.35h1.7M275.86 346.05h1.7M278.96 346.05h1.7M276.36 343.75h1.7M279.46 343.75h1.7M276.86 341.45h1.7M279.96 341.45h1.7M277.36 339.15h1.7M280.46 339.15h1.7M277.82 336.85h1.7M280.92 336.85h1.7M278.27 334.55h1.7M281.37 334.55h1.7M278.72 332.25h1.7M281.82 332.25h1.7M279.17 329.95h1.7M282.27 329.95h1.7M279.61 327.65h1.7M282.71 327.65h1.7M280.06 325.35h1.7M283.16 325.35h1.7M280.51 323.05h1.7M283.61 323.05h1.7M280.96 320.75h1.7M284.06 320.75h1.7M281.41 318.45h1.7M284.51 318.45h1.7M281.85 316.15h1.7M284.95 316.15h1.7M282.30 313.85h1.7M285.40 313.85h1.7M282.75 311.55h1.7M285.85 311.55h1.7M283.20 309.25h1.7M286.30 309.25h1.7M283.65 306.95h1.7M286.75 306.95h1.7M284.09 304.65h1.7M287.19 304.65h1.7M284.54 302.35h1.7M287.64 302.35h1.7M284.99 300.05h1.7M288.09 300.05h1.7M285.44 297.75h1.7M288.54 297.75h1.7M285.90 295.45h1.7M289.00 295.45h1.7M286.35 293.15h1.7M289.45 293.15h1.7M286.81 290.85h1.7M289.91 290.85h1.7M287.26 288.55h1.7M290.36 288.55h1.7M287.71 286.25h1.7M290.81 286.25h1.7M288.17 283.95h1.7M291.27 283.95h1.7M288.62 281.65h1.7M291.72 281.65h1.7M289.07 279.35h1.7M292.17 279.35h1.7M289.53 277.05h1.7M292.63 277.05h1.7M289.98 274.75h1.7M293.08 274.75h1.7M290.44 272.45h1.7M293.54 272.45h1.7" fill="none" stroke="#f6ad2c" stroke-width="1.25"/>
<path d="M270.71 370.20h4.6M271.21 367.90h4.6M271.71 365.60h4.6M272.21 363.30h4.6M272.71 361.00h4.6M273.21 358.70h4.6M273.71 356.40h4.6M274.21 354.10h4.6M274.71 351.80h4.6M275.21 349.50h4.6M275.71 347.20h4.6M276.21 344.90h4.6M276.71 342.60h4.6M277.21 340.30h4.6M277.70 338.00h4.6M278.15 335.70h4.6M278.59 333.40h4.6M279.04 331.10h4.6M279.49 328.80h4.6M279.94 326.50h4.6M280.39 324.20h4.6M280.83 321.90h4.6M281.28 319.60h4.6M281.73 317.30h4.6M282.18 315.00h4.6M282.63 312.70h4.6M283.07 310.40h4.6M283.52 308.10h4.6M283.97 305.80h4.6M284.42 303.50h4.6M284.87 301.20h4.6M285.32 298.90h4.6M285.77 296.60h4.6M286.22 294.30h4.6M286.68 292.00h4.6M287.13 289.70h4.6M287.59 287.40h4.6M288.04 285.10h4.6M288.49 282.80h4.6M288.95 280.50h4.6M289.40 278.20h4.6M289.86 275.90h4.6M290.31 273.60h4.6M290.76 271.30h4.6" fill="none" stroke="#5fa552" stroke-width="1.1"/>
<path d="M270.81 370.20h1.5M273.71 370.20h1.5M271.31 367.90h1.5M274.21 367.90h1.5M271.81 365.60h1.5M274.71 365.60h1.5M272.31 363.30h1.5M275.21 363.30h1.5M272.81 361.00h1.5M275.71 361.00h1.5M273.31 358.70h1.5M276.21 358.70h1.5M273.81 356.40h1.5M276.71 356.40h1.5M274.31 354.10h1.5M277.21 354.10h1.5M274.81 351.80h1.5M277.71 351.80h1.5M275.31 349.50h1.5M278.21 349.50h1.5M275.81 347.20h1.5M278.71 347.20h1.5M276.31 344.90h1.5M279.21 344.90h1.5M276.81 342.60h1.5M279.71 342.60h1.5M277.31 340.30h1.5M280.21 340.30h1.5M277.80 338.00h1.5M280.70 338.00h1.5M278.25 335.70h1.5M281.15 335.70h1.5M278.69 333.40h1.5M281.59 333.40h1.5M279.14 331.10h1.5M282.04 331.10h1.5M279.59 328.80h1.5M282.49 328.80h1.5M280.04 326.50h1.5M282.94 326.50h1.5M280.49 324.20h1.5M283.39 324.20h1.5M280.93 321.90h1.5M283.83 321.90h1.5M281.38 319.60h1.5M284.28 319.60h1.5M281.83 317.30h1.5M284.73 317.30h1.5M282.28 315.00h1.5M285.18 315.00h1.5M282.73 312.70h1.5M285.63 312.70h1.5M283.17 310.40h1.5M286.07 310.40h1.5M283.62 308.10h1.5M286.52 308.10h1.5M284.07 305.80h1.5M286.97 305.80h1.5M284.52 303.50h1.5M287.42 303.50h1.5M284.97 301.20h1.5M287.87 301.20h1.5M285.42 298.90h1.5M288.32 298.90h1.5M285.87 296.60h1.5M288.77 296.60h1.5M286.32 294.30h1.5M289.22 294.30h1.5M286.78 292.00h1.5M289.68 292.00h1.5M287.23 289.70h1.5M290.13 289.70h1.5M287.69 287.40h1.5M290.59 287.40h1.5M288.14 285.10h1.5M291.04 285.10h1.5M288.59 282.80h1.5M291.49 282.80h1.5M289.05 280.50h1.5M291.95 280.50h1.5M289.50 278.20h1.5M292.40 278.20h1.5M289.96 275.90h1.5M292.86 275.90h1.5M290.41 273.60h1.5M293.31 273.60h1.5M290.86 271.30h1.5M293.76 271.30h1.5" fill="none" stroke="#4a86c8" stroke-width="1.05"/>
<text x="134.8" y="382.30" class="tc" text-anchor="end">0.0</text>
<text x="134.8" y="358.47" class="tc" text-anchor="end">0.2</text>
<text x="134.8" y="334.63" class="tc" text-anchor="end">0.4</text>
<text x="134.8" y="310.80" class="tc" text-anchor="end">0.6</text>
<text x="134.8" y="286.97" class="tc" text-anchor="end">0.8</text>
<text x="134.8" y="263.13" class="tc" text-anchor="end">1.0</text>
<text x="134.8" y="239.30" class="tc" text-anchor="end">1.2</text>
<text x="144.20" y="393.7" class="tc" text-anchor="middle">− 2</text>
<text x="213.05" y="393.7" class="tc" text-anchor="middle">− 1</text>
<text x="283.40" y="393.7" class="tc" text-anchor="middle">0</text>
<text x="352.25" y="393.7" class="tc" text-anchor="middle">1</text>
<text x="421.10" y="393.7" class="tc" text-anchor="middle">2</text>
<text x="283.6" y="404.4" class="tc" style="font-size:10.2px" text-anchor="middle">IN (V)</text>
<text transform="translate(121.3,308) rotate(-90)" class="tc" style="font-size:10.2px" text-anchor="middle">OUT (V)</text>
<circle cx="156.3" cy="242.6" r="1.7" fill="none" stroke="#7fb0e0" stroke-width="0.7"/>
<text x="159.8" y="245.1" class="lg" textLength="14.6" lengthAdjust="spacingAndGlyphs">10°C</text>
<path d="M181.79999999999998 244.1L183.6 240.79999999999998L185.4 244.1z" fill="none" stroke="#ef9a4f" stroke-width="0.7"/>
<text x="187.1" y="245.1" class="lg" textLength="14.6" lengthAdjust="spacingAndGlyphs">20°C</text>
<path d="M210.3 241.1l3 3m0-3l-3 3" fill="none" stroke="#f2a27a" stroke-width="0.7"/>
<text x="215.3" y="245.1" class="lg" textLength="14.6" lengthAdjust="spacingAndGlyphs">30°C</text>
<path d="M154.2 252.0l3.6 3.6m0-3.6l-3.6 3.6" fill="none" stroke="#f2c21c" stroke-width="0.8"/>
<text x="159.5" y="256.3" class="lg" textLength="14.6" lengthAdjust="spacingAndGlyphs">40°C</text>
<path d="M181.79999999999998 253.8h3.6" fill="none" stroke="#3a78c3" stroke-width="0.9"/>
<text x="187.1" y="256.3" class="lg" textLength="14.6" lengthAdjust="spacingAndGlyphs">50°C</text>
<path d="M210.10000000000002 253.8h3.4M211.8 252.10000000000002v3.4" fill="none" stroke="#6bab45" stroke-width="0.8"/>
<text x="215.3" y="256.3" class="lg" textLength="14.6" lengthAdjust="spacingAndGlyphs">60°C</text>
</g>
<text x="130.9" y="223.6" class="cap" text-anchor="middle">(a)</text>
<text x="410.4" y="223.8" class="cap" text-anchor="middle" textLength="13.6" lengthAdjust="spacingAndGlyphs" style="font-size:10.8px">(b)</text>
<text x="270.4" y="419.5" class="cap" text-anchor="middle" style="font-size:10.4px">(c)</text>
</svg>
</body></html>
